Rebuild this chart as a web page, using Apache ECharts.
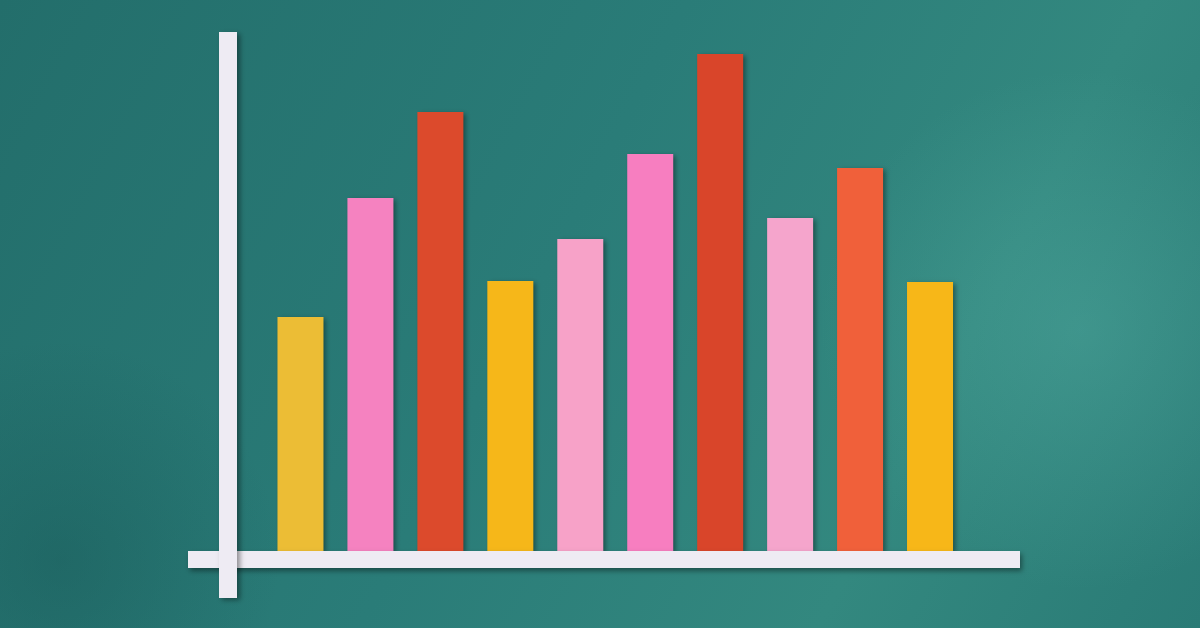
<!DOCTYPE html>
<html>
<head>
<meta charset="utf-8">
<script src="https://cdn.jsdelivr.net/npm/echarts@6/dist/echarts.min.js"></script>
<style>html,body{margin:0;padding:0;}#c{width:1200px;height:628px;}</style>
</head>
<body>
<div id="c"></div>
<script>
// Data (heights of paper bars, arbitrary units)
const categories = ['1','2','3','4','5','6','7','8','9','10'];
const values = [234, 353, 439, 270, 312, 397, 497, 333, 383, 269];
const barColors = ['#ecbd35','#f582c0','#dc4a2c','#f6b719','#f7a2c8','#f77ec0','#d9452a','#f5a5cc','#f0603a','#f7b718'];

const chart = echarts.init(document.getElementById('c'), null, {renderer:'canvas'});
chart.setOption({
  animation: false,
  backgroundColor: {
    type: 'linear', x: 0, y: 0, x2: 1, y2: 1,
    colorStops: [
      {offset: 0, color: '#236e6b'},
      {offset: 0.45, color: '#2a7c78'},
      {offset: 0.75, color: '#33887f'},
      {offset: 1, color: '#2a7b76'}
    ]
  },
  grid: {left: 265.5, right: 235, top: 31, bottom: 77},
  xAxis: {
    type: 'category', data: categories,
    axisLine: {show: false}, axisTick: {show: false}, axisLabel: {show: false}
  },
  yAxis: {
    type: 'value', min: 0, max: 520,
    axisLine: {show: false}, axisTick: {show: false}, axisLabel: {show: false},
    splitLine: {show: false}
  },
  graphic: [
    {type: 'circle', shape: {cx: 1080, cy: 330, r: 260}, z: -10, silent: true,
      style: {fill: {type: 'radial', x: 0.5, y: 0.5, r: 0.5,
        colorStops: [{offset: 0, color: 'rgba(90,180,170,0.35)'}, {offset: 1, color: 'rgba(90,180,170,0)'}]}}},
    {type: 'circle', shape: {cx: 60, cy: 560, r: 220}, z: -10, silent: true,
      style: {fill: {type: 'radial', x: 0.5, y: 0.5, r: 0.5,
        colorStops: [{offset: 0, color: 'rgba(20,80,80,0.35)'}, {offset: 1, color: 'rgba(20,80,80,0)'}]}}},
    {type: 'rect', shape: {x: 188, y: 551, width: 832, height: 17}, z: 100, silent: true,
      style: {fill: '#eeebf3', shadowBlur: 5, shadowOffsetX: 2, shadowOffsetY: 3, shadowColor: 'rgba(0,0,0,0.4)'}},
    {type: 'rect', shape: {x: 219, y: 32, width: 18, height: 566}, z: 101, silent: true,
      style: {fill: '#eeebf3', shadowBlur: 5, shadowOffsetX: 3, shadowOffsetY: 2, shadowColor: 'rgba(0,0,0,0.4)'}}
  ],
  series: [{
    type: 'bar',
    data: values.map((v, i) => ({value: v, itemStyle: {color: barColors[i]}})),
    barWidth: 46,
    itemStyle: {shadowBlur: 5, shadowOffsetX: 3, shadowOffsetY: 2, shadowColor: 'rgba(0,0,0,0.4)'}
  }]
});
</script>
</body>
</html>
